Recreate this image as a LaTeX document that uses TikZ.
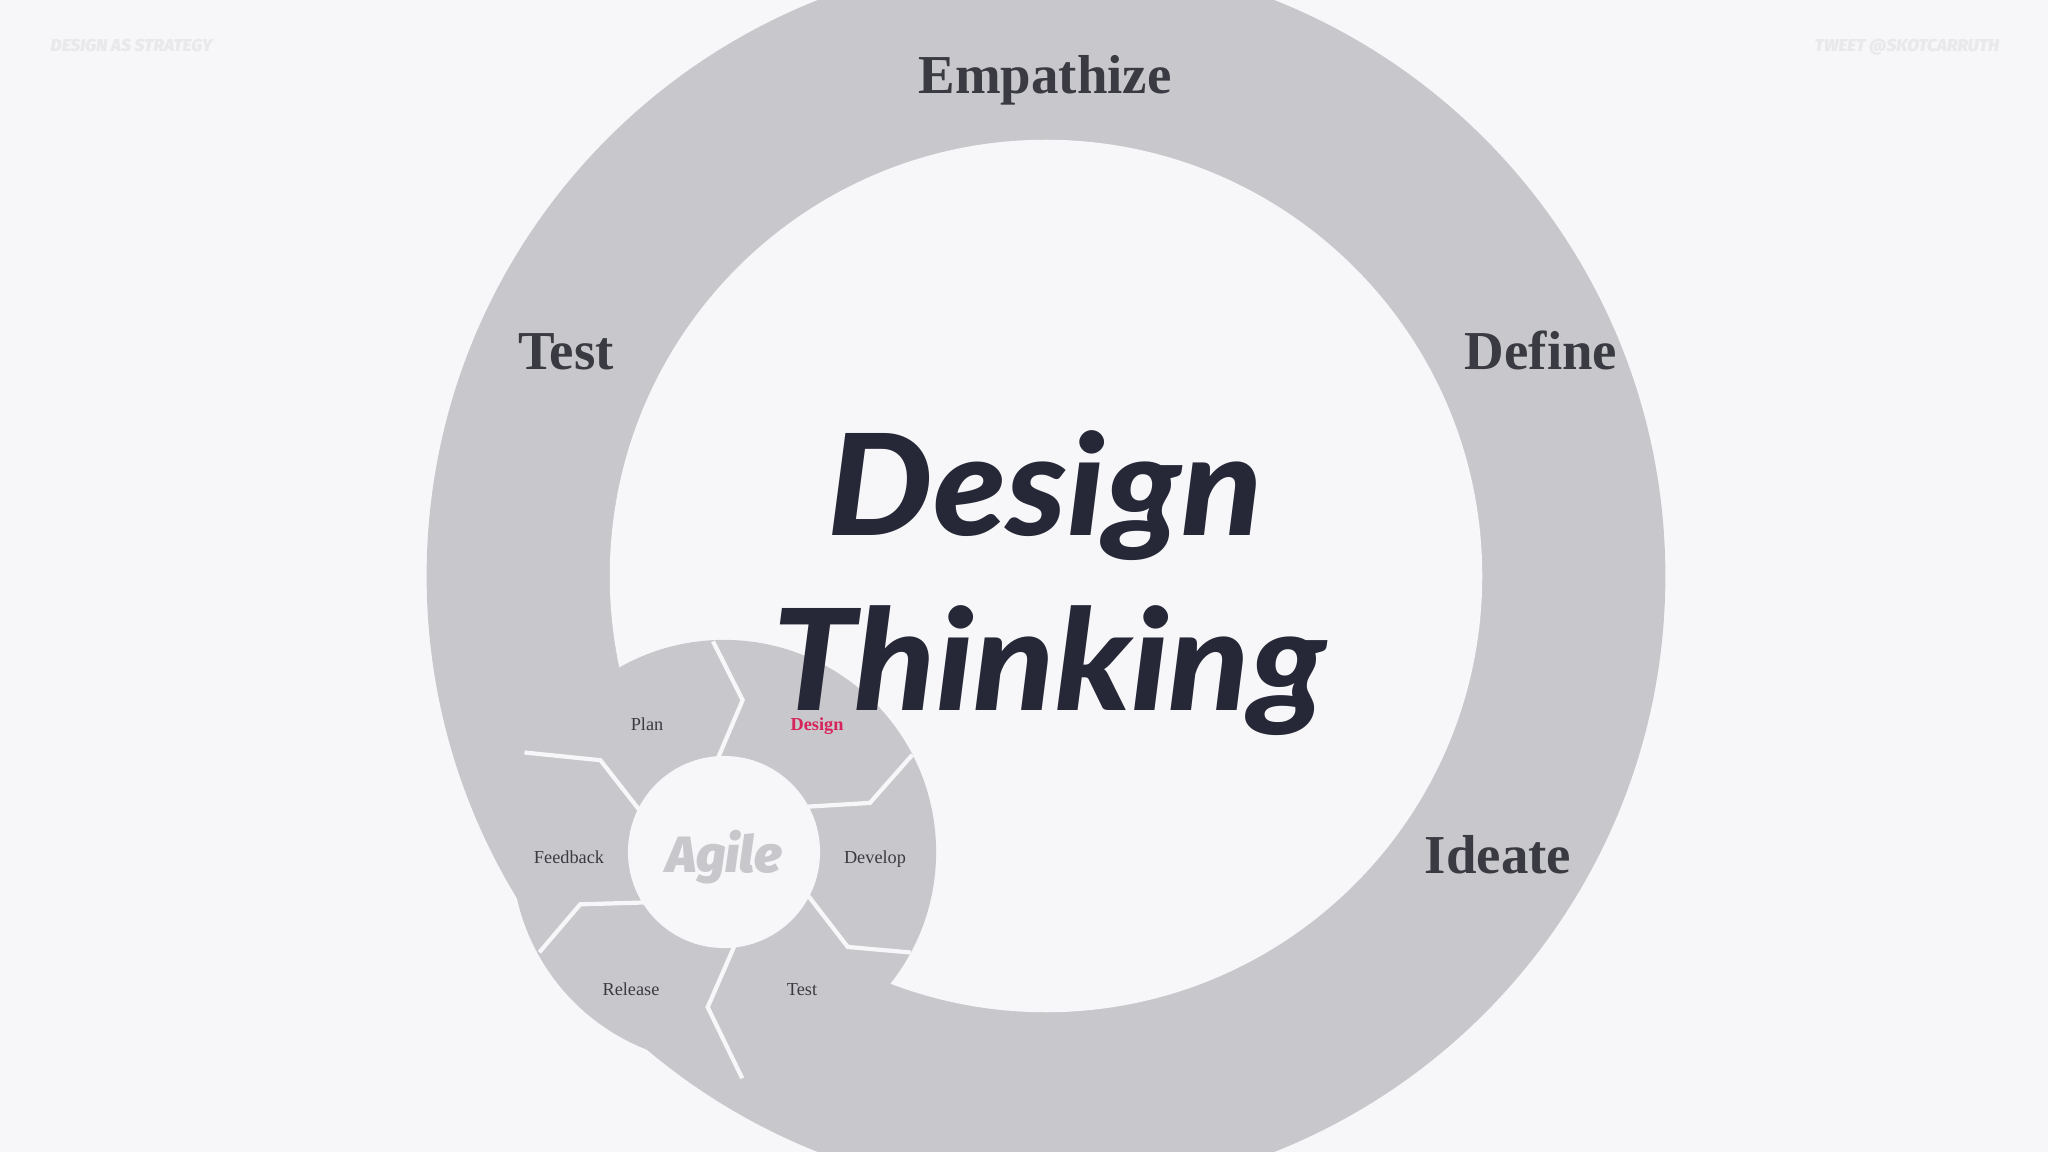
\documentclass[tikz,border=0pt]{standalone}
\usepackage{fontspec}
\setmainfont{Liberation Serif}
\IfFontExistsTF{Lato Black Italic}
  {\newfontfamily\dtfont{Lato Black Italic}[FakeStretch=1.06]}
  {\newfontfamily\dtfont{Fira Sans Black Italic}}
\newfontfamily\agfont{Fira Sans Black Italic}
\definecolor{bgc}{HTML}{F7F7F9}
\definecolor{ringc}{HTML}{C8C8CC}
\definecolor{labc}{HTML}{3A3A42}
\definecolor{dtc}{HTML}{262838}
\definecolor{redc}{HTML}{D6245A}
\definecolor{agilec}{HTML}{C8C8CC}
\definecolor{cornerc}{HTML}{E9E9EC}
\tikzset{
  sepline/.style={draw=bgc, line width=1.2pt, line join=miter},
  biglab/.style={anchor=base, inner sep=0pt, text=labc, font=\fontsize{15.6}{18}\selectfont\bfseries},
  wheellab/.style={anchor=base, inner sep=0pt, text height=1.4ex, text=labc, font=\fontsize{5.2}{6}\selectfont},
  dttext/.style={anchor=base, inner sep=0pt, text depth=0pt, text=dtc, font=\fontsize{40}{44}\selectfont\dtfont},
  cornertext/.style={anchor=base, inner sep=0pt, text=cornerc, font=\fontsize{4.9}{5}\selectfont\agfont},
}
\begin{document}
\begin{tikzpicture}[x=0.01cm,y=-0.01cm]
\useasboundingbox (0,0) rectangle (2048,1152);
\clip (0,0) rectangle (2048,1152);
\fill[bgc] (0,0) rectangle (2048,1152);
% big ring
\fill[ringc] (1046,576) circle[radius=6.19cm];
\fill[bgc] (1046,576) circle[radius=4.36cm];
% agile wheel
\fill[ringc] (724,852) circle[radius=2.12cm];
\fill[bgc] (724,852) circle[radius=0.96cm];
\begin{scope}[shift={(724,852)}]
  \draw[sepline] (-95:90) -- (-83:153) -- (-93:211);
  \draw[sepline] (-30:90) -- (-18.6:154) -- (-27.3:212);
  \draw[sepline] (26:90) -- (37.5:156) -- (28.3:212);
  \draw[sepline] (82:90) -- (96:156) -- (85.4:227);
  \draw[sepline] (146:90) -- (160:153) -- (151.5:210);
  \draw[sepline] (-155:90) -- (-143.4:154) -- (-153.5:223);
\end{scope}
% corner texts
\node[cornertext, anchor=base west] (c1) at (50,52) {DESIGN AS STRATEGY};
\node[cornertext, anchor=base east] (c2) at (2000,52) {TWEET @SKOTCARRUTH};
% ring labels
\node[biglab] (emp) at (1045,94) {Empathize};
\node[biglab] (def) at (1541,370) {Define};
\node[biglab] (ide) at (1498,873) {Ideate};
\node[biglab] (tst) at (566,370) {Test};
% center title
\node[dttext] (design) at (1045,535) {Design};
\node[dttext] (thinking) at (1049,710) {Thinking};
% wheel labels
\node[wheellab] (plan) at (647,730) {Plan};
\node[wheellab, text=redc, font=\fontsize{5.2}{6}\selectfont\bfseries] (wdes) at (817,730) {Design};
\node[wheellab] (dev) at (875,863) {Develop};
\node[wheellab] (wtest) at (802,995) {Test};
\node[wheellab] (rel) at (631,995) {Release};
\node[wheellab] (fb) at (569,863) {Feedback};
\node[anchor=base, inner sep=0pt, text=agilec, font=\fontsize{14.5}{16}\selectfont\agfont] (agile) at (724,872) {Agile};
\end{tikzpicture}
\end{document}
